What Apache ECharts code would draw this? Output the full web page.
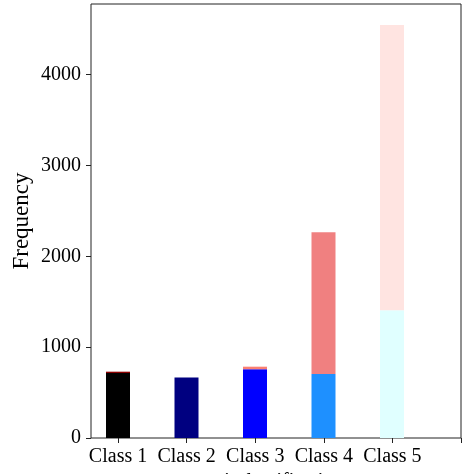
<!DOCTYPE html>
<html>
<head>
<meta charset="utf-8">
<script src="https://cdn.jsdelivr.net/npm/echarts@6/dist/echarts.min.js"></script>
<style>
  html, body { margin: 0; padding: 0; background: #fff; }
  #main { width: 474px; height: 474px; }
</style>
</head>
<body>
<div id="main"></div>
<script>
// data
var categories = ['Class 1', 'Class 2', 'Class 3', 'Class 4', 'Class 5'];
var correctCounts = [715, 665, 757, 705, 1407];
var wrongCounts = [15, 0, 28, 1560, 3140];
var yTicks = [0, 1000, 2000, 3000, 4000];
var xTicks = [0, 1, 2, 3, 4, 5];

// colours per class
var correctColors = ['#000000', '#000080', '#0000ff', '#1e90ff', '#e0ffff'];
var wrongColors = ['#8b0000', '#b22222', '#fa8072', '#f08080', '#ffe4e1'];

var font = '"Liberation Serif", "DejaVu Serif", serif';
var yMax = 4777;

function toItems(values, colors) {
	return values.map(function(v, i) {
		return { value: v, itemStyle: { color: colors[i] } };
	});
}

var myChart = echarts.init(document.getElementById('main'));

// grid 0: the visible frame with ticks and labels
// grid 1: invisible category grid that holds the bars (class centres at 118 ... 392 px)
var option = {
	animation : false,
	backgroundColor : '#fff',
	grid : [ {
		left : 91, right : 13, top : 4, bottom : 36,
		outerBoundsMode : 'none',
		show : true, borderColor : '#222', borderWidth : 1
	}, {
		left : 83.75, right : 474 - 426.25, top : 4, bottom : 36,
		outerBoundsMode : 'none'
	} ],
	xAxis : [ {
		gridIndex : 0,
		type : 'value',
		min : -0.394,
		max : 5,
		splitLine : { show : false },
		axisLine : { show : false, onZero : false },
		axisTick : {
			show : true, length : 5,
			customValues : xTicks,
			lineStyle : { color : '#222' }
		},
		axisLabel : {
			customValues : [0, 1, 2, 3, 4],
			formatter : function(v) { return categories[Math.round(v)] || ''; },
			fontFamily : font, fontSize : 20, color : '#000', margin : 9
		},
		name : 'misclassification',
		nameLocation : 'middle',
		nameGap : 27,
		nameTextStyle : { fontFamily : font, fontSize : 20, color : '#000' }
	}, {
		gridIndex : 1,
		type : 'category',
		data : categories,
		show : false
	} ],
	yAxis : [ {
		gridIndex : 0,
		type : 'value',
		min : 0,
		max : yMax,
		splitLine : { show : false },
		axisLine : { show : false, onZero : false },
		axisTick : {
			show : true, length : 5,
			customValues : yTicks,
			lineStyle : { color : '#222' }
		},
		axisLabel : {
			customValues : yTicks,
			formatter : function(v) { return String(v); },
			fontFamily : font, fontSize : 20, color : '#000', margin : 10
		},
		name : 'Frequency',
		nameLocation : 'middle',
		nameMoveOverlap : false,
		nameGap : 58,
		nameTextStyle : { fontFamily : font, fontSize : 23, color : '#000' }
	}, {
		gridIndex : 1,
		type : 'value',
		min : 0,
		max : yMax,
		show : false
	} ],
	series : [ {
		type : 'bar',
		xAxisIndex : 1,
		yAxisIndex : 1,
		stack : 'total',
		barWidth : 24,
		data : toItems(correctCounts, correctColors)
	}, {
		type : 'bar',
		xAxisIndex : 1,
		yAxisIndex : 1,
		stack : 'total',
		barWidth : 24,
		data : toItems(wrongCounts, wrongColors)
	} ]
};

myChart.setOption(option);
</script>
</body>
</html>
